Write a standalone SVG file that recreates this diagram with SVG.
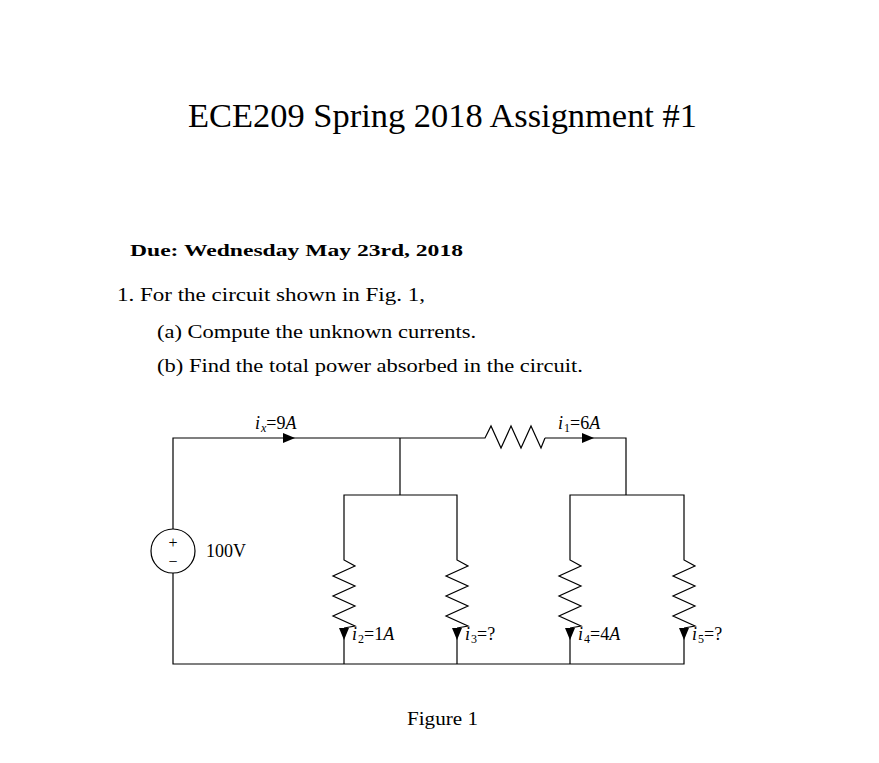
<svg xmlns="http://www.w3.org/2000/svg" width="879" height="763" viewBox="0 0 879 763">
<style>
text{font-family:"Liberation Serif",serif;fill:#000}
.t{font-size:18px}
.m{font-size:18px;font-style:italic}
.w{fill:none;stroke:#000;stroke-width:1.2}
</style>
<defs>
<path id="rv" d="M0,0 L0,2 L11,8 L-11,18 L11,28 L-11,38 L11,48 L-11,58 L11,68 L0,70" class="w"/>
<path id="ad" d="M-5,-6 L5,-6 L0,6 Z"/>
<path id="ar" d="M-6,-5 L-6,5 L6,0 Z"/>
</defs>
<rect width="879" height="763" fill="#fff"/>
<g id="texts">
<text x="188" y="127" textLength="509" lengthAdjust="spacingAndGlyphs" style="font-size:34px">ECE209 Spring 2018 Assignment #1</text>
<text x="130" y="256" textLength="333" lengthAdjust="spacingAndGlyphs" style="font-size:17px;font-weight:bold">Due: Wednesday May 23rd, 2018</text>
<text x="117" y="301" textLength="308" lengthAdjust="spacingAndGlyphs" class="t">1.  For the circuit shown in Fig. 1,</text>
<text x="157" y="338" textLength="319" lengthAdjust="spacingAndGlyphs" class="t">(a)  Compute the unknown currents.</text>
<text x="157" y="372" textLength="426" lengthAdjust="spacingAndGlyphs" class="t">(b)  Find the total power absorbed in the circuit.</text>
<text x="407" y="725" textLength="71" lengthAdjust="spacingAndGlyphs" class="t">Figure 1</text>
</g>
<g id="connectors">
<path class="w" d="M173,529 L173,438 L481,438 M545,438 L626,438 L626,495 M400,438 L400,495 M344,558 L344,495 L457,495 L457,558 M570,558 L570,495 L684,495 L684,558 M173,573 L173,664 L684,664 L684,628 M344,628 L344,664 M457,628 L457,664 M570,628 L570,664"/>
<path class="w" d="M481,438 L485,438 L491,426 L501,448 L511,426 L521,448 L531,426 L541,448 L545,438"/>
</g>
<g id="wire-arrows">
<use href="#ar" x="289" y="438"/>
<use href="#ar" x="588" y="438"/>
<text x="255" y="429" class="m">i<tspan style="font-size:12px" dx="1" dy="3">x</tspan><tspan dy="-3" font-style="normal">=9</tspan>A</text>
<text x="558" y="429" class="m">i<tspan style="font-size:12px;font-style:normal" dx="1" dy="3">1</tspan><tspan dy="-3" font-style="normal">=6</tspan>A</text>
</g>
<g id="source">
<circle cx="173" cy="551" r="22" class="w"/>
<text x="173" y="548" text-anchor="middle" style="font-size:16px">+</text>
<text x="173" y="567" text-anchor="middle" style="font-size:16px">−</text>
<text x="206" y="557" class="t">100V</text>
</g>
<g id="R2"><use href="#rv" x="344" y="558"/><use href="#ad" x="344" y="634"/>
<text x="352" y="640" class="m">i<tspan style="font-size:12px;font-style:normal" dx="1" dy="3">2</tspan><tspan dy="-3" font-style="normal">=1</tspan>A</text></g>
<g id="R3"><use href="#rv" x="457" y="558"/><use href="#ad" x="457" y="634"/>
<text x="465" y="640" class="m">i<tspan style="font-size:12px;font-style:normal" dx="1" dy="3">3</tspan><tspan dy="-3" font-style="normal">=?</tspan></text></g>
<g id="R4"><use href="#rv" x="570" y="558"/><use href="#ad" x="570" y="634"/>
<text x="578" y="640" class="m">i<tspan style="font-size:12px;font-style:normal" dx="1" dy="3">4</tspan><tspan dy="-3" font-style="normal">=4</tspan>A</text></g>
<g id="R5"><use href="#rv" x="684" y="558"/><use href="#ad" x="684" y="634"/>
<text x="692" y="640" class="m">i<tspan style="font-size:12px;font-style:normal" dx="1" dy="3">5</tspan><tspan dy="-3" font-style="normal">=?</tspan></text></g>
</svg>
